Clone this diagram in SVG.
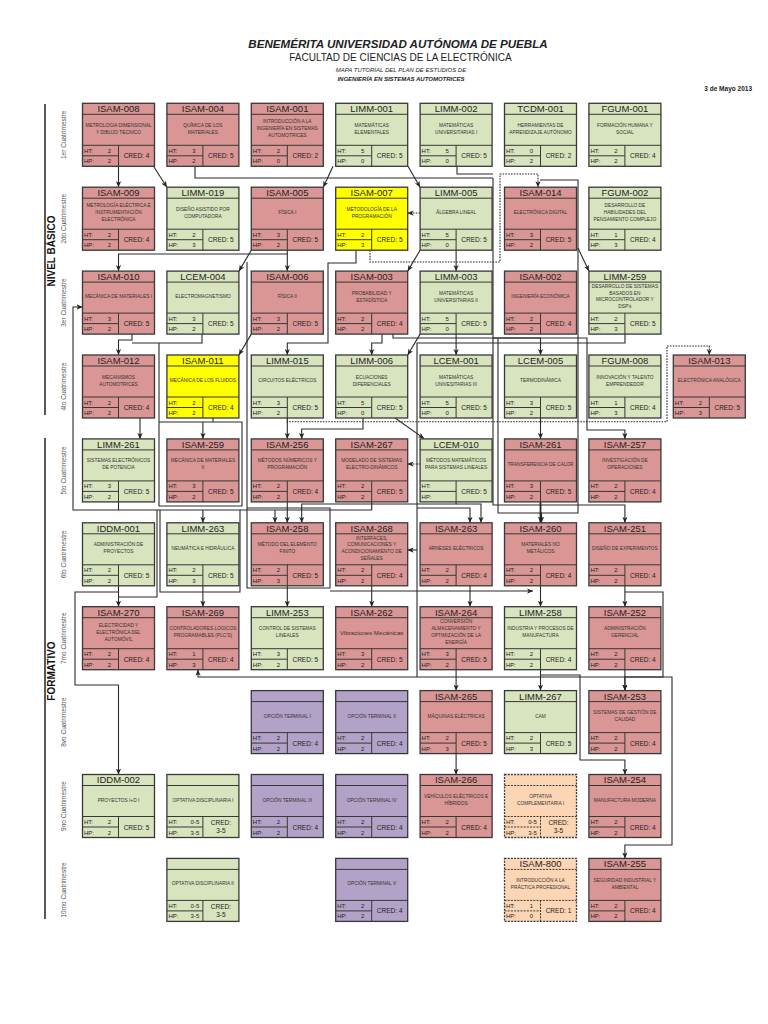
<svg xmlns="http://www.w3.org/2000/svg" xmlns:xlink="http://www.w3.org/1999/xlink" width="768" height="1024" viewBox="0 0 768 1024">
<style>
text{font-family:'Liberation Sans',Arial,sans-serif;fill:#222}
.c{font-size:9.5px;text-anchor:middle;fill:#1e1e1e}
.t{font-size:4.8px;text-anchor:middle;fill:#333}
.k{font-size:6px}
.v{font-size:6px;text-anchor:middle}
.r{font-size:6.5px;text-anchor:middle}
.sem{font-size:6.5px;text-anchor:middle;fill:#555}
.lvl{font-size:10px;font-weight:bold;text-anchor:middle;fill:#111}
.red{fill:#d99694}.grn{fill:#d7e4bd}.yel{fill:#ffff00}.pur{fill:#b3a2c7}.org{fill:#fcd5b5;stroke-dasharray:2 1.2}
.dsh{stroke-dasharray:2 1.2}
.ln{fill:none;stroke:#2a2a2a;stroke-width:1.1}
.dt{stroke-dasharray:1.6 1.2}
</style>
<defs>
<rect id="bx" width="72" height="63" stroke="#383838" stroke-width="1.3"/>
<path id="gr" d="M0,11H72M0,42H72M0,52.5H36M36,42V63" fill="none" stroke="#383838" stroke-width="1"/>
<marker id="ah" viewBox="0 0 8 8" refX="8" refY="4" markerWidth="6" markerHeight="6" orient="auto" markerUnits="userSpaceOnUse"><path d="M0,0.5L8,4L0,7.5L2.2,4z" fill="#222"/></marker>
</defs>
<rect width="768" height="1024" fill="#fff"/>
<g id="header">
<text x="398" y="48" style="font-size:11.6px;font-weight:bold;font-style:italic" text-anchor="middle">BENEMÉRITA UNIVERSIDAD AUTÓNOMA DE PUEBLA</text>
<text x="400.5" y="61" style="font-size:10px" text-anchor="middle">FACULTAD DE CIENCIAS DE LA ELECTRÓNICA</text>
<text x="401" y="71.5" style="font-size:6px;font-style:italic" text-anchor="middle">MAPA TUTORIAL DEL PLAN DE ESTUDIOS DE</text>
<text x="401" y="81" style="font-size:6px;font-style:italic;font-weight:bold" text-anchor="middle">INGENIERÍA EN SISTEMAS AUTOMOTRICES</text>
<text x="752" y="90.5" style="font-size:6.5px;font-weight:bold" text-anchor="end">3 de Mayo 2013</text>
</g>
<g id="levels">
<path d="M45,104V415M45,438V919" stroke="#222" stroke-width="1.5" fill="none"/>
<text class="lvl" transform="translate(55,251) rotate(-90)">NIVEL BÁSICO</text>
<text class="lvl" transform="translate(55,671) rotate(-90)">FORMATIVO</text>
<text class="sem" transform="translate(65.5,134.8) rotate(-90)">1er Cuatrimestre</text>
<text class="sem" transform="translate(65.5,218.7) rotate(-90)">2do Cuatrimestre</text>
<text class="sem" transform="translate(65.5,302.6) rotate(-90)">3er Cuatrimestre</text>
<text class="sem" transform="translate(65.5,386.5) rotate(-90)">4to Cuatrimestre</text>
<text class="sem" transform="translate(65.5,470.4) rotate(-90)">5to Cuatrimestre</text>
<text class="sem" transform="translate(65.5,554.3) rotate(-90)">6to Cuatrimestre</text>
<text class="sem" transform="translate(65.5,638.2) rotate(-90)">7mo Cuatrimestre</text>
<text class="sem" transform="translate(65.5,722.1) rotate(-90)">8vo Cuatrimestre</text>
<text class="sem" transform="translate(65.5,806) rotate(-90)">9no Cuatrimestre</text>
<text class="sem" transform="translate(65.5,889.9) rotate(-90)">10mo Cuatrimestre</text>
</g>
<g id="connectors" class="ln">
<path d="M195,166.3V178H493M457,166.3V174H493M202,334.1V343H132M159,343V506H242V422H159M213,418V422M393,334.1V338H493M625,334.1V343H417V677M247,262V588H330V508H247M118.5,501.9V510M157,510V597H118.5M160,510V592H240V510M498,338V513H541.5"/>
<g marker-end="url(#ah)">
<path d="M118.5,166.3V187.2"/>
<path d="M153.5,166.3L166.9,187.2"/>
<path d="M333,166.3L323.3,187.2"/>
<path d="M408,166.3L420.1,187.2"/>
<path d="M287.3,250.2V271.1"/>
<path d="M287.3,254H118.5V271.1"/>
<path d="M251.3,250.2L239,271.1"/>
<path d="M420.1,250.2L407.7,271.1"/>
<path d="M456.1,250.2V271.1"/>
<path d="M356,250.2V263H328V343H287.3V355"/>
<path d="M540,180H578V248L588.9,271.1"/>
<path d="M132,334.1V340H118.5V355"/>
<path d="M251.3,334.1L238.9,355"/>
<path d="M382,334.1V343H371.7V355"/>
<path d="M420.1,334.1L407.7,355"/>
<path d="M456.1,334.1V355"/>
<path d="M493,338H540.5V355"/>
<path d="M493,338H587V430H624.9V438.9"/>
<path d="M140,418V438.9"/>
<path d="M202.9,422V438.9"/>
<path d="M287.3,418V438.9"/>
<path d="M363,418V429H301.7V438.9"/>
<path d="M395,418L424,438.4"/>
<path d="M540.5,418V438.9"/>
<path d="M493,178V505H624.9V522.8"/>
<path d="M371.7,501.9V510H73V307H82.5"/>
<path d="M202.9,510V522.8"/>
<path d="M275,510V522.8"/>
<path d="M287.3,501.9V522.8"/>
<path d="M456.1,501.9V504H301.7V522.8"/>
<path d="M456.1,504H481V522.8"/>
<path d="M417,508H470V522.8"/>
<path d="M417,550H407.7"/>
<path d="M578,248V513H541.5V522.8"/>
<path d="M540.5,501.9V522.8" stroke-width="1.8"/>
<path d="M118.5,585.8V606.7"/>
<path d="M118.5,592H75V685H118.5V774.5"/>
<path d="M202.9,585.8V606.7"/>
<path d="M287.3,585.8V606.7"/>
<path d="M371.7,585.8V606.7"/>
<path d="M470,585.8V606.7"/>
<path d="M330,591H533"/>
<path d="M540.5,585.8V606.7"/>
<path d="M624.9,585.8V606.7"/>
<path d="M624.9,592H663V677H624.9V690.6"/>
<path d="M624.9,669.7V690.6"/>
<path d="M456.1,669.7V690.6"/>
<path d="M540.5,669.7V690.6"/>
<path d="M540.5,675H580V760H624.9V774.5"/>
<path d="M417,677H198V669.7"/>
<path d="M417,677H672V845H624.9V858.4"/>
<path d="M456.1,753.6V774.5"/>
<path class="dt" d="M370,250.2V262H500V174H538V187.2"/>
<path class="dt" d="M420.1,213H407.7"/>
<path class="dt" d="M287.3,418V421.7H667V346H709.3V355"/>
<path class="dt" d="M420.1,464H407.7"/>
</g>
</g>
<!-- Row 1 -->
<g id="ISAM-008" transform="translate(82.5,103.3)"><use href="#bx" class="red"/><use href="#gr"/><text class="c" x="36" y="8.9">ISAM-008</text><text class="t" x="36" y="23.5">METROLOGIA DIMENSIONAL</text><text class="t" x="36" y="30.5">Y DIBUJO TECNICO</text><text class="k" x="1.5" y="49.6">HT:</text><text class="v" x="27" y="49.6">2</text><text class="k" x="1.5" y="60">HP:</text><text class="v" x="27" y="60">2</text><text class="r" x="54" y="55">CRED: 4</text></g>
<g id="ISAM-004" transform="translate(166.9,103.3)"><use href="#bx" class="red"/><use href="#gr"/><text class="c" x="36" y="8.9">ISAM-004</text><text class="t" x="36" y="23.5">QUÍMICA DE LOS</text><text class="t" x="36" y="30.5">MATERIALES</text><text class="k" x="1.5" y="49.6">HT:</text><text class="v" x="27" y="49.6">3</text><text class="k" x="1.5" y="60">HP:</text><text class="v" x="27" y="60">2</text><text class="r" x="54" y="55">CRED: 5</text></g>
<g id="ISAM-001" transform="translate(251.3,103.3)"><use href="#bx" class="red"/><use href="#gr"/><text class="c" x="36" y="8.9">ISAM-001</text><text class="t" x="36" y="20">INTRODUCCIÓN A LA</text><text class="t" x="36" y="27">INGENIERÍA EN SISTEMAS</text><text class="t" x="36" y="34">AUTOMOTRICES</text><text class="k" x="1.5" y="49.6">HT:</text><text class="v" x="27" y="49.6">2</text><text class="k" x="1.5" y="60">HP:</text><text class="v" x="27" y="60">0</text><text class="r" x="54" y="55">CRED: 2</text></g>
<g id="LIMM-001" transform="translate(335.7,103.3)"><use href="#bx" class="grn"/><use href="#gr"/><text class="c" x="36" y="8.9">LIMM-001</text><text class="t" x="36" y="23.5">MATEMÁTICAS</text><text class="t" x="36" y="30.5">ELEMENTALES</text><text class="k" x="1.5" y="49.6">HT:</text><text class="v" x="27" y="49.6">5</text><text class="k" x="1.5" y="60">HP:</text><text class="v" x="27" y="60">0</text><text class="r" x="54" y="55">CRED: 5</text></g>
<g id="LIMM-002" transform="translate(420.1,103.3)"><use href="#bx" class="grn"/><use href="#gr"/><text class="c" x="36" y="8.9">LIMM-002</text><text class="t" x="36" y="23.5">MATEMÁTICAS</text><text class="t" x="36" y="30.5">UNIVERSITARIAS I</text><text class="k" x="1.5" y="49.6">HT:</text><text class="v" x="27" y="49.6">5</text><text class="k" x="1.5" y="60">HP:</text><text class="v" x="27" y="60">0</text><text class="r" x="54" y="55">CRED: 5</text></g>
<g id="TCDM-001" transform="translate(504.5,103.3)"><use href="#bx" class="grn"/><use href="#gr"/><text class="c" x="36" y="8.9">TCDM-001</text><text class="t" x="36" y="23.5">HERRAMIENTAS DE</text><text class="t" x="36" y="30.5">APRENDIZAJE AUTÓNOMO</text><text class="k" x="1.5" y="49.6">HT:</text><text class="v" x="27" y="49.6">0</text><text class="k" x="1.5" y="60">HP:</text><text class="v" x="27" y="60">2</text><text class="r" x="54" y="55">CRED: 2</text></g>
<g id="FGUM-001" transform="translate(588.9,103.3)"><use href="#bx" class="grn"/><use href="#gr"/><text class="c" x="36" y="8.9">FGUM-001</text><text class="t" x="36" y="23.5">FORMACIÓN HUMANA Y</text><text class="t" x="36" y="30.5">SOCIAL</text><text class="k" x="1.5" y="49.6">HT:</text><text class="v" x="27" y="49.6">2</text><text class="k" x="1.5" y="60">HP:</text><text class="v" x="27" y="60">2</text><text class="r" x="54" y="55">CRED: 4</text></g>
<!-- Row 2 -->
<g id="ISAM-009" transform="translate(82.5,187.2)"><use href="#bx" class="red"/><use href="#gr"/><text class="c" x="36" y="8.9">ISAM-009</text><text class="t" x="36" y="20">METROLOGÍA ELÉCTRICA E</text><text class="t" x="36" y="27">INSTRUMENTACIÓN</text><text class="t" x="36" y="34">ELECTRÓNICA</text><text class="k" x="1.5" y="49.6">HT:</text><text class="v" x="27" y="49.6">2</text><text class="k" x="1.5" y="60">HP:</text><text class="v" x="27" y="60">2</text><text class="r" x="54" y="55">CRED: 4</text></g>
<g id="LIMM-019" transform="translate(166.9,187.2)"><use href="#bx" class="grn"/><use href="#gr"/><text class="c" x="36" y="8.9">LIMM-019</text><text class="t" x="36" y="23.5">DISEÑO ASISTIDO POR</text><text class="t" x="36" y="30.5">COMPUTADORA</text><text class="k" x="1.5" y="49.6">HT:</text><text class="v" x="27" y="49.6">2</text><text class="k" x="1.5" y="60">HP:</text><text class="v" x="27" y="60">3</text><text class="r" x="54" y="55">CRED: 5</text></g>
<g id="ISAM-005" transform="translate(251.3,187.2)"><use href="#bx" class="red"/><use href="#gr"/><text class="c" x="36" y="8.9">ISAM-005</text><text class="t" x="36" y="27">FÍSICA I</text><text class="k" x="1.5" y="49.6">HT:</text><text class="v" x="27" y="49.6">3</text><text class="k" x="1.5" y="60">HP:</text><text class="v" x="27" y="60">2</text><text class="r" x="54" y="55">CRED: 5</text></g>
<g id="ISAM-007" transform="translate(335.7,187.2)"><use href="#bx" class="yel"/><use href="#gr"/><text class="c" x="36" y="8.9">ISAM-007</text><text class="t" x="36" y="23.5">METODOLOGÍA DE LA</text><text class="t" x="36" y="30.5">PROGRAMACIÓN</text><text class="k" x="1.5" y="49.6">HT:</text><text class="v" x="27" y="49.6">2</text><text class="k" x="1.5" y="60">HP:</text><text class="v" x="27" y="60">3</text><text class="r" x="54" y="55">CRED: 5</text></g>
<g id="LIMM-005" transform="translate(420.1,187.2)"><use href="#bx" class="grn"/><use href="#gr"/><text class="c" x="36" y="8.9">LIMM-005</text><text class="t" x="36" y="27">ÁLGEBRA LINEAL</text><text class="k" x="1.5" y="49.6">HT:</text><text class="v" x="27" y="49.6">5</text><text class="k" x="1.5" y="60">HP:</text><text class="v" x="27" y="60">0</text><text class="r" x="54" y="55">CRED: 5</text></g>
<g id="ISAM-014" transform="translate(504.5,187.2)"><use href="#bx" class="red"/><use href="#gr"/><text class="c" x="36" y="8.9">ISAM-014</text><text class="t" x="36" y="27">ELECTRÓNICA DIGITAL</text><text class="k" x="1.5" y="49.6">HT:</text><text class="v" x="27" y="49.6">3</text><text class="k" x="1.5" y="60">HP:</text><text class="v" x="27" y="60">2</text><text class="r" x="54" y="55">CRED: 5</text></g>
<g id="FGUM-002" transform="translate(588.9,187.2)"><use href="#bx" class="grn"/><use href="#gr"/><text class="c" x="36" y="8.9">FGUM-002</text><text class="t" x="36" y="20">DESARROLLO DE</text><text class="t" x="36" y="27">HABILIDADES DEL</text><text class="t" x="36" y="34">PENSAMIENTO COMPLEJO</text><text class="k" x="1.5" y="49.6">HT:</text><text class="v" x="27" y="49.6">1</text><text class="k" x="1.5" y="60">HP:</text><text class="v" x="27" y="60">3</text><text class="r" x="54" y="55">CRED: 4</text></g>
<!-- Row 3 -->
<g id="ISAM-010" transform="translate(82.5,271.1)"><use href="#bx" class="red"/><use href="#gr"/><text class="c" x="36" y="8.9">ISAM-010</text><text class="t" x="36" y="27">MECÁNICA DE MATERIALES I</text><text class="k" x="1.5" y="49.6">HT:</text><text class="v" x="27" y="49.6">3</text><text class="k" x="1.5" y="60">HP:</text><text class="v" x="27" y="60">2</text><text class="r" x="54" y="55">CRED: 5</text></g>
<g id="LCEM-004" transform="translate(166.9,271.1)"><use href="#bx" class="grn"/><use href="#gr"/><text class="c" x="36" y="8.9">LCEM-004</text><text class="t" x="36" y="27">ELECTROMAGNETISMO</text><text class="k" x="1.5" y="49.6">HT:</text><text class="v" x="27" y="49.6">3</text><text class="k" x="1.5" y="60">HP:</text><text class="v" x="27" y="60">2</text><text class="r" x="54" y="55">CRED: 5</text></g>
<g id="ISAM-006" transform="translate(251.3,271.1)"><use href="#bx" class="red"/><use href="#gr"/><text class="c" x="36" y="8.9">ISAM-006</text><text class="t" x="36" y="27">FÍSICA II</text><text class="k" x="1.5" y="49.6">HT:</text><text class="v" x="27" y="49.6">3</text><text class="k" x="1.5" y="60">HP:</text><text class="v" x="27" y="60">2</text><text class="r" x="54" y="55">CRED: 5</text></g>
<g id="ISAM-003" transform="translate(335.7,271.1)"><use href="#bx" class="red"/><use href="#gr"/><text class="c" x="36" y="8.9">ISAM-003</text><text class="t" x="36" y="23.5">PROBABILIDAD Y</text><text class="t" x="36" y="30.5">ESTADÍSTICA</text><text class="k" x="1.5" y="49.6">HT:</text><text class="v" x="27" y="49.6">2</text><text class="k" x="1.5" y="60">HP:</text><text class="v" x="27" y="60">2</text><text class="r" x="54" y="55">CRED: 4</text></g>
<g id="LIMM-003" transform="translate(420.1,271.1)"><use href="#bx" class="grn"/><use href="#gr"/><text class="c" x="36" y="8.9">LIMM-003</text><text class="t" x="36" y="23.5">MATEMÁTICAS</text><text class="t" x="36" y="30.5">UNIVERSITARIAS II</text><text class="k" x="1.5" y="49.6">HT:</text><text class="v" x="27" y="49.6">5</text><text class="k" x="1.5" y="60">HP:</text><text class="v" x="27" y="60">0</text><text class="r" x="54" y="55">CRED: 5</text></g>
<g id="ISAM-002" transform="translate(504.5,271.1)"><use href="#bx" class="red"/><use href="#gr"/><text class="c" x="36" y="8.9">ISAM-002</text><text class="t" x="36" y="27">INGENIERÍA ECONÓMICA</text><text class="k" x="1.5" y="49.6">HT:</text><text class="v" x="27" y="49.6">2</text><text class="k" x="1.5" y="60">HP:</text><text class="v" x="27" y="60">2</text><text class="r" x="54" y="55">CRED: 4</text></g>
<g id="LIMM-259" transform="translate(588.9,271.1)"><use href="#bx" class="grn"/><use href="#gr"/><text class="c" x="36" y="8.9">LIMM-259</text><text class="t" x="36" y="16.8">DESARROLLO DE SISTEMAS</text><text class="t" x="36" y="23.6">BASADOS EN</text><text class="t" x="36" y="30.4">MICROCONTROLADOR Y</text><text class="t" x="36" y="37.2">DSP's</text><text class="k" x="1.5" y="49.6">HT:</text><text class="v" x="27" y="49.6">2</text><text class="k" x="1.5" y="60">HP:</text><text class="v" x="27" y="60">3</text><text class="r" x="54" y="55">CRED: 5</text></g>
<!-- Row 4 -->
<g id="ISAM-012" transform="translate(82.5,355)"><use href="#bx" class="red"/><use href="#gr"/><text class="c" x="36" y="8.9">ISAM-012</text><text class="t" x="36" y="23.5">MECANISMOS</text><text class="t" x="36" y="30.5">AUTOMOTRICES</text><text class="k" x="1.5" y="49.6">HT:</text><text class="v" x="27" y="49.6">2</text><text class="k" x="1.5" y="60">HP:</text><text class="v" x="27" y="60">2</text><text class="r" x="54" y="55">CRED: 4</text></g>
<g id="ISAM-011" transform="translate(166.9,355)"><use href="#bx" class="yel"/><use href="#gr"/><text class="c" x="36" y="8.9">ISAM-011</text><text class="t" x="36" y="27">MECÁNICA DE LOS FLUIDOS</text><text class="k" x="1.5" y="49.6">HT:</text><text class="v" x="27" y="49.6">2</text><text class="k" x="1.5" y="60">HP:</text><text class="v" x="27" y="60">2</text><text class="r" x="54" y="55">CRED: 4</text></g>
<g id="LIMM-015" transform="translate(251.3,355)"><use href="#bx" class="grn"/><use href="#gr"/><text class="c" x="36" y="8.9">LIMM-015</text><text class="t" x="36" y="27">CIRCUITOS ELÉCTRICOS</text><text class="k" x="1.5" y="49.6">HT:</text><text class="v" x="27" y="49.6">3</text><text class="k" x="1.5" y="60">HP:</text><text class="v" x="27" y="60">2</text><text class="r" x="54" y="55">CRED: 5</text></g>
<g id="LIMM-006" transform="translate(335.7,355)"><use href="#bx" class="grn"/><use href="#gr"/><text class="c" x="36" y="8.9">LIMM-006</text><text class="t" x="36" y="23.5">ECUACIONES</text><text class="t" x="36" y="30.5">DIFERENCIALES</text><text class="k" x="1.5" y="49.6">HT:</text><text class="v" x="27" y="49.6">5</text><text class="k" x="1.5" y="60">HP:</text><text class="v" x="27" y="60">0</text><text class="r" x="54" y="55">CRED: 5</text></g>
<g id="LCEM-001" transform="translate(420.1,355)"><use href="#bx" class="grn"/><use href="#gr"/><text class="c" x="36" y="8.9">LCEM-001</text><text class="t" x="36" y="23.5">MATEMÁTICAS</text><text class="t" x="36" y="30.5">UNIVESITARIAS III</text><text class="k" x="1.5" y="49.6">HT:</text><text class="v" x="27" y="49.6">5</text><text class="k" x="1.5" y="60">HP:</text><text class="v" x="27" y="60">0</text><text class="r" x="54" y="55">CRED: 5</text></g>
<g id="LCEM-005" transform="translate(504.5,355)"><use href="#bx" class="grn"/><use href="#gr"/><text class="c" x="36" y="8.9">LCEM-005</text><text class="t" x="36" y="27">TERMODINÁMICA</text><text class="k" x="1.5" y="49.6">HT:</text><text class="v" x="27" y="49.6">3</text><text class="k" x="1.5" y="60">HP:</text><text class="v" x="27" y="60">2</text><text class="r" x="54" y="55">CRED: 5</text></g>
<g id="FGUM-008" transform="translate(588.9,355)"><use href="#bx" class="grn"/><use href="#gr"/><text class="c" x="36" y="8.9">FGUM-008</text><text class="t" x="36" y="23.5">INNOVACIÓN Y TALENTO</text><text class="t" x="36" y="30.5">EMPRENDEDOR</text><text class="k" x="1.5" y="49.6">HT:</text><text class="v" x="27" y="49.6">1</text><text class="k" x="1.5" y="60">HP:</text><text class="v" x="27" y="60">3</text><text class="r" x="54" y="55">CRED: 4</text></g>
<g id="ISAM-013" transform="translate(673.3,355)"><use href="#bx" class="red"/><use href="#gr"/><text class="c" x="36" y="8.9">ISAM-013</text><text class="t" x="36" y="27">ELECTRÓNICA ANALÓGICA</text><text class="k" x="1.5" y="49.6">HT:</text><text class="v" x="27" y="49.6">2</text><text class="k" x="1.5" y="60">HP:</text><text class="v" x="27" y="60">3</text><text class="r" x="54" y="55">CRED: 5</text></g>
<!-- Row 5 -->
<g id="LIMM-261" transform="translate(82.5,438.9)"><use href="#bx" class="grn"/><use href="#gr"/><text class="c" x="36" y="8.9">LIMM-261</text><text class="t" x="36" y="23.5">SISTEMAS ELECTRÓNICOS</text><text class="t" x="36" y="30.5">DE POTENCIA</text><text class="k" x="1.5" y="49.6">HT:</text><text class="v" x="27" y="49.6">3</text><text class="k" x="1.5" y="60">HP:</text><text class="v" x="27" y="60">2</text><text class="r" x="54" y="55">CRED: 5</text></g>
<g id="ISAM-259" transform="translate(166.9,438.9)"><use href="#bx" class="red"/><use href="#gr"/><text class="c" x="36" y="8.9">ISAM-259</text><text class="t" x="36" y="23.5">MECÁNICA DE MATERIALES</text><text class="t" x="36" y="30.5">II</text><text class="k" x="1.5" y="49.6">HT:</text><text class="v" x="27" y="49.6">3</text><text class="k" x="1.5" y="60">HP:</text><text class="v" x="27" y="60">2</text><text class="r" x="54" y="55">CRED: 5</text></g>
<g id="ISAM-256" transform="translate(251.3,438.9)"><use href="#bx" class="red"/><use href="#gr"/><text class="c" x="36" y="8.9">ISAM-256</text><text class="t" x="36" y="23.5">MÉTODOS NÚMERICOS Y</text><text class="t" x="36" y="30.5">PROGRAMACIÓN</text><text class="k" x="1.5" y="49.6">HT:</text><text class="v" x="27" y="49.6">2</text><text class="k" x="1.5" y="60">HP:</text><text class="v" x="27" y="60">2</text><text class="r" x="54" y="55">CRED: 4</text></g>
<g id="ISAM-267" transform="translate(335.7,438.9)"><use href="#bx" class="red"/><use href="#gr"/><text class="c" x="36" y="8.9">ISAM-267</text><text class="t" x="36" y="23.5">MODELADO DE SISTEMAS</text><text class="t" x="36" y="30.5">ELECTRO-DINÁMICOS</text><text class="k" x="1.5" y="49.6">HT:</text><text class="v" x="27" y="49.6">2</text><text class="k" x="1.5" y="60">HP:</text><text class="v" x="27" y="60">2</text><text class="r" x="54" y="55">CRED: 5</text></g>
<g id="LCEM-010" transform="translate(420.1,438.9)"><use href="#bx" class="grn"/><use href="#gr"/><text class="c" x="36" y="8.9">LCEM-010</text><text class="t" x="36" y="23.5">MÉTODOS MATEMÁTICOS</text><text class="t" x="36" y="30.5">PARA SISTEMAS LINEALES</text><text class="k" x="1.5" y="49.6">HT:</text><text class="k" x="1.5" y="60">HP:</text><text class="r" x="54" y="55">CRED: 5</text></g>
<g id="ISAM-261" transform="translate(504.5,438.9)"><use href="#bx" class="red"/><use href="#gr"/><text class="c" x="36" y="8.9">ISAM-261</text><text class="t" x="36" y="27">TRANSFERENCIA DE CALOR</text><text class="k" x="1.5" y="49.6">HT:</text><text class="v" x="27" y="49.6">3</text><text class="k" x="1.5" y="60">HP:</text><text class="v" x="27" y="60">2</text><text class="r" x="54" y="55">CRED: 5</text></g>
<g id="ISAM-257" transform="translate(588.9,438.9)"><use href="#bx" class="red"/><use href="#gr"/><text class="c" x="36" y="8.9">ISAM-257</text><text class="t" x="36" y="23.5">INVESTIGACIÓN DE</text><text class="t" x="36" y="30.5">OPERACIONES</text><text class="k" x="1.5" y="49.6">HT:</text><text class="v" x="27" y="49.6">2</text><text class="k" x="1.5" y="60">HP:</text><text class="v" x="27" y="60">2</text><text class="r" x="54" y="55">CRED: 4</text></g>
<!-- Row 6 -->
<g id="IDDM-001" transform="translate(82.5,522.8)"><use href="#bx" class="grn"/><use href="#gr"/><text class="c" x="36" y="8.9">IDDM-001</text><text class="t" x="36" y="23.5">ADMINISTRACIÓN DE</text><text class="t" x="36" y="30.5">PROYECTOS</text><text class="k" x="1.5" y="49.6">HT:</text><text class="v" x="27" y="49.6">2</text><text class="k" x="1.5" y="60">HP:</text><text class="v" x="27" y="60">2</text><text class="r" x="54" y="55">CRED: 5</text></g>
<g id="LIMM-263" transform="translate(166.9,522.8)"><use href="#bx" class="grn"/><use href="#gr"/><text class="c" x="36" y="8.9">LIMM-263</text><text class="t" x="36" y="27">NEUMÁTICA E HIDRÁULICA</text><text class="k" x="1.5" y="49.6">HT:</text><text class="v" x="27" y="49.6">2</text><text class="k" x="1.5" y="60">HP:</text><text class="v" x="27" y="60">3</text><text class="r" x="54" y="55">CRED: 5</text></g>
<g id="ISAM-258" transform="translate(251.3,522.8)"><use href="#bx" class="red"/><use href="#gr"/><text class="c" x="36" y="8.9">ISAM-258</text><text class="t" x="36" y="23.5">MÉTODO DEL ELEMENTO</text><text class="t" x="36" y="30.5">FINITO</text><text class="k" x="1.5" y="49.6">HT:</text><text class="v" x="27" y="49.6">2</text><text class="k" x="1.5" y="60">HP:</text><text class="v" x="27" y="60">3</text><text class="r" x="54" y="55">CRED: 5</text></g>
<g id="ISAM-268" transform="translate(335.7,522.8)"><use href="#bx" class="red"/><use href="#gr"/><text class="c" x="36" y="8.9">ISAM-268</text><text class="t" x="36" y="16.8">INTERFACES,</text><text class="t" x="36" y="23.6">COMUNICACIONES Y</text><text class="t" x="36" y="30.4">ACONDICIONAMIENTO DE</text><text class="t" x="36" y="37.2">SEÑALES</text><text class="k" x="1.5" y="49.6">HT:</text><text class="v" x="27" y="49.6">2</text><text class="k" x="1.5" y="60">HP:</text><text class="v" x="27" y="60">2</text><text class="r" x="54" y="55">CRED: 4</text></g>
<g id="ISAM-263" transform="translate(420.1,522.8)"><use href="#bx" class="red"/><use href="#gr"/><text class="c" x="36" y="8.9">ISAM-263</text><text class="t" x="36" y="27">ARNESES ELÉCTRICOS</text><text class="k" x="1.5" y="49.6">HT:</text><text class="v" x="27" y="49.6">2</text><text class="k" x="1.5" y="60">HP:</text><text class="v" x="27" y="60">2</text><text class="r" x="54" y="55">CRED: 4</text></g>
<g id="ISAM-260" transform="translate(504.5,522.8)"><use href="#bx" class="red"/><use href="#gr"/><text class="c" x="36" y="8.9">ISAM-260</text><text class="t" x="36" y="23.5">MATERIALES NO</text><text class="t" x="36" y="30.5">METÁLICOS</text><text class="k" x="1.5" y="49.6">HT:</text><text class="v" x="27" y="49.6">2</text><text class="k" x="1.5" y="60">HP:</text><text class="v" x="27" y="60">2</text><text class="r" x="54" y="55">CRED: 4</text></g>
<g id="ISAM-251" transform="translate(588.9,522.8)"><use href="#bx" class="red"/><use href="#gr"/><text class="c" x="36" y="8.9">ISAM-251</text><text class="t" x="36" y="27">DISEÑO DE EXPERIMENTOS</text><text class="k" x="1.5" y="49.6">HT:</text><text class="v" x="27" y="49.6">2</text><text class="k" x="1.5" y="60">HP:</text><text class="v" x="27" y="60">2</text><text class="r" x="54" y="55">CRED: 4</text></g>
<!-- Row 7 -->
<g id="ISAM-270" transform="translate(82.5,606.7)"><use href="#bx" class="red"/><use href="#gr"/><text class="c" x="36" y="8.9">ISAM-270</text><text class="t" x="36" y="20">ELECTRICIDAD Y</text><text class="t" x="36" y="27">ELECTRÓNICA DEL</text><text class="t" x="36" y="34">AUTOMÓVIL</text><text class="k" x="1.5" y="49.6">HT:</text><text class="v" x="27" y="49.6">2</text><text class="k" x="1.5" y="60">HP:</text><text class="v" x="27" y="60">2</text><text class="r" x="54" y="55">CRED: 4</text></g>
<g id="ISAM-269" transform="translate(166.9,606.7)"><use href="#bx" class="red"/><use href="#gr"/><text class="c" x="36" y="8.9">ISAM-269</text><text class="t" x="36" y="23.5">CONTROLADORES LOGICOS</text><text class="t" x="36" y="30.5">PROGRAMABLES (PLC'S)</text><text class="k" x="1.5" y="49.6">HT:</text><text class="v" x="27" y="49.6">1</text><text class="k" x="1.5" y="60">HP:</text><text class="v" x="27" y="60">3</text><text class="r" x="54" y="55">CRED: 4</text></g>
<g id="LIMM-253" transform="translate(251.3,606.7)"><use href="#bx" class="grn"/><use href="#gr"/><text class="c" x="36" y="8.9">LIMM-253</text><text class="t" x="36" y="23.5">CONTROL DE SISTEMAS</text><text class="t" x="36" y="30.5">LINEALES</text><text class="k" x="1.5" y="49.6">HT:</text><text class="v" x="27" y="49.6">3</text><text class="k" x="1.5" y="60">HP:</text><text class="v" x="27" y="60">2</text><text class="r" x="54" y="55">CRED: 5</text></g>
<g id="ISAM-262" transform="translate(335.7,606.7)"><use href="#bx" class="red"/><use href="#gr"/><text class="c" x="36" y="8.9">ISAM-262</text><text class="t" x="36" y="28" style="font-size:6.2px">Vibraciones Mecánicas</text><text class="k" x="1.5" y="49.6">HT:</text><text class="v" x="27" y="49.6">3</text><text class="k" x="1.5" y="60">HP:</text><text class="v" x="27" y="60">2</text><text class="r" x="54" y="55">CRED: 5</text></g>
<g id="ISAM-264" transform="translate(420.1,606.7)"><use href="#bx" class="red"/><use href="#gr"/><text class="c" x="36" y="8.9">ISAM-264</text><text class="t" x="36" y="16.8">CONVERSIÓN</text><text class="t" x="36" y="23.6">ALMACENAMIENTO Y</text><text class="t" x="36" y="30.4">OPTIMIZACIÓN DE LA</text><text class="t" x="36" y="37.2">ENERGÍA</text><text class="k" x="1.5" y="49.6">HT:</text><text class="v" x="27" y="49.6">3</text><text class="k" x="1.5" y="60">HP:</text><text class="v" x="27" y="60">2</text><text class="r" x="54" y="55">CRED: 5</text></g>
<g id="LIMM-258" transform="translate(504.5,606.7)"><use href="#bx" class="grn"/><use href="#gr"/><text class="c" x="36" y="8.9">LIMM-258</text><text class="t" x="36" y="23.5">INDUSTRIA Y PROCESOS DE</text><text class="t" x="36" y="30.5">MANUFACTURA</text><text class="k" x="1.5" y="49.6">HT:</text><text class="v" x="27" y="49.6">2</text><text class="k" x="1.5" y="60">HP:</text><text class="v" x="27" y="60">2</text><text class="r" x="54" y="55">CRED: 4</text></g>
<g id="ISAM-252" transform="translate(588.9,606.7)"><use href="#bx" class="red"/><use href="#gr"/><text class="c" x="36" y="8.9">ISAM-252</text><text class="t" x="36" y="23.5">ADMINISTRACIÓN</text><text class="t" x="36" y="30.5">GERENCIAL</text><text class="k" x="1.5" y="49.6">HT:</text><text class="v" x="27" y="49.6">2</text><text class="k" x="1.5" y="60">HP:</text><text class="v" x="27" y="60">2</text><text class="r" x="54" y="55">CRED: 4</text></g>
<!-- Row 8 -->
<g id="OPCION-TERMINAL-I" transform="translate(251.3,690.6)"><use href="#bx" class="pur"/><use href="#gr"/><text class="t" x="36" y="27">OPCIÓN TERMINAL I</text><text class="k" x="1.5" y="49.6">HT:</text><text class="v" x="27" y="49.6">2</text><text class="k" x="1.5" y="60">HP:</text><text class="v" x="27" y="60">2</text><text class="r" x="54" y="55">CRED: 4</text></g>
<g id="OPCION-TERMINAL-II" transform="translate(335.7,690.6)"><use href="#bx" class="pur"/><use href="#gr"/><text class="t" x="36" y="27">OPCIÓN TERMINAL II</text><text class="k" x="1.5" y="49.6">HT:</text><text class="v" x="27" y="49.6">2</text><text class="k" x="1.5" y="60">HP:</text><text class="v" x="27" y="60">2</text><text class="r" x="54" y="55">CRED: 4</text></g>
<g id="ISAM-265" transform="translate(420.1,690.6)"><use href="#bx" class="red"/><use href="#gr"/><text class="c" x="36" y="8.9">ISAM-265</text><text class="t" x="36" y="27">MÁQUINAS ELÉCTRICAS</text><text class="k" x="1.5" y="49.6">HT:</text><text class="v" x="27" y="49.6">2</text><text class="k" x="1.5" y="60">HP:</text><text class="v" x="27" y="60">3</text><text class="r" x="54" y="55">CRED: 5</text></g>
<g id="LIMM-267" transform="translate(504.5,690.6)"><use href="#bx" class="grn"/><use href="#gr"/><text class="c" x="36" y="8.9">LIMM-267</text><text class="t" x="36" y="27">CAM</text><text class="k" x="1.5" y="49.6">HT:</text><text class="v" x="27" y="49.6">2</text><text class="k" x="1.5" y="60">HP:</text><text class="v" x="27" y="60">3</text><text class="r" x="54" y="55">CRED: 5</text></g>
<g id="ISAM-253" transform="translate(588.9,690.6)"><use href="#bx" class="red"/><use href="#gr"/><text class="c" x="36" y="8.9">ISAM-253</text><text class="t" x="36" y="23.5">SISTEMAS DE GESTIÓN DE</text><text class="t" x="36" y="30.5">CALIDAD</text><text class="k" x="1.5" y="49.6">HT:</text><text class="v" x="27" y="49.6">2</text><text class="k" x="1.5" y="60">HP:</text><text class="v" x="27" y="60">2</text><text class="r" x="54" y="55">CRED: 4</text></g>
<!-- Row 9 -->
<g id="IDDM-002" transform="translate(82.5,774.5)"><use href="#bx" class="grn"/><use href="#gr"/><text class="c" x="36" y="8.9">IDDM-002</text><text class="t" x="36" y="27">PROYECTOS I+D I</text><text class="k" x="1.5" y="49.6">HT:</text><text class="v" x="27" y="49.6">2</text><text class="k" x="1.5" y="60">HP:</text><text class="v" x="27" y="60">2</text><text class="r" x="54" y="55">CRED: 5</text></g>
<g id="OPTATIVA-DISCIPLINARIA-I" transform="translate(166.9,774.5)"><use href="#bx" class="grn"/><use href="#gr"/><text class="t" x="36" y="27">OPTATIVA DISCIPLINARIA I</text><text class="k" x="1.5" y="49.6">HT:</text><text class="v" x="28" y="49.6">0-5</text><text class="k" x="1.5" y="60">HP:</text><text class="v" x="28" y="60">3-5</text><text class="r" x="54" y="50.5">CRED:</text><text class="r" x="54" y="58.5">3-5</text></g>
<g id="OPCION-TERMINAL-III" transform="translate(251.3,774.5)"><use href="#bx" class="pur"/><use href="#gr"/><text class="t" x="36" y="27">OPCIÓN TERMINAL III</text><text class="k" x="1.5" y="49.6">HT:</text><text class="v" x="27" y="49.6">2</text><text class="k" x="1.5" y="60">HP:</text><text class="v" x="27" y="60">2</text><text class="r" x="54" y="55">CRED: 4</text></g>
<g id="OPCION-TERMINAL-IV" transform="translate(335.7,774.5)"><use href="#bx" class="pur"/><use href="#gr"/><text class="t" x="36" y="27">OPCIÓN TERMINAL IV</text><text class="k" x="1.5" y="49.6">HT:</text><text class="v" x="27" y="49.6">2</text><text class="k" x="1.5" y="60">HP:</text><text class="v" x="27" y="60">2</text><text class="r" x="54" y="55">CRED: 4</text></g>
<g id="ISAM-266" transform="translate(420.1,774.5)"><use href="#bx" class="red"/><use href="#gr"/><text class="c" x="36" y="8.9">ISAM-266</text><text class="t" x="36" y="23.5">VEHÍCULOS ELÉCTRICOS E</text><text class="t" x="36" y="30.5">HÍBRIDOS</text><text class="k" x="1.5" y="49.6">HT:</text><text class="v" x="27" y="49.6">2</text><text class="k" x="1.5" y="60">HP:</text><text class="v" x="27" y="60">2</text><text class="r" x="54" y="55">CRED: 4</text></g>
<g id="OPTATIVA-COMPLEMENTARIA-I" transform="translate(504.5,774.5)"><use href="#bx" class="org"/><use href="#gr" class="dsh"/><text class="t" x="36" y="23.5">OPTATIVA</text><text class="t" x="36" y="30.5">COMPLEMENTARIA I</text><text class="k" x="1.5" y="49.6">HT:</text><text class="v" x="28" y="49.6">0-5</text><text class="k" x="1.5" y="60">HP:</text><text class="v" x="28" y="60">3-5</text><text class="r" x="54" y="50.5">CRED:</text><text class="r" x="54" y="58.5">3-5</text></g>
<g id="ISAM-254" transform="translate(588.9,774.5)"><use href="#bx" class="red"/><use href="#gr"/><text class="c" x="36" y="8.9">ISAM-254</text><text class="t" x="36" y="27">MANUFACTURA MODERNA</text><text class="k" x="1.5" y="49.6">HT:</text><text class="v" x="27" y="49.6">2</text><text class="k" x="1.5" y="60">HP:</text><text class="v" x="27" y="60">2</text><text class="r" x="54" y="55">CRED: 4</text></g>
<!-- Row 10 -->
<g id="OPTATIVA-DISCIPLINARIA-II" transform="translate(166.9,858.4)"><use href="#bx" class="grn"/><use href="#gr"/><text class="t" x="36" y="27">OPTATIVA DISCIPLINARIA II</text><text class="k" x="1.5" y="49.6">HT:</text><text class="v" x="28" y="49.6">0-5</text><text class="k" x="1.5" y="60">HP:</text><text class="v" x="28" y="60">3-5</text><text class="r" x="54" y="50.5">CRED:</text><text class="r" x="54" y="58.5">3-5</text></g>
<g id="OPCION-TERMINAL-V" transform="translate(335.7,858.4)"><use href="#bx" class="pur"/><use href="#gr"/><text class="t" x="36" y="27">OPCIÓN TERMINAL V</text><text class="k" x="1.5" y="49.6">HT:</text><text class="v" x="27" y="49.6">2</text><text class="k" x="1.5" y="60">HP:</text><text class="v" x="27" y="60">2</text><text class="r" x="54" y="55">CRED: 4</text></g>
<g id="ISAM-800" transform="translate(504.5,858.4)"><use href="#bx" class="org"/><use href="#gr" class="dsh"/><text class="c" x="36" y="8.9">ISAM-800</text><text class="t" x="36" y="23.5">INTRODUCCIÓN A LA</text><text class="t" x="36" y="30.5">PRÁCTICA PROFESIONAL</text><text class="k" x="1.5" y="49.6">HT:</text><text class="v" x="27" y="49.6">1</text><text class="k" x="1.5" y="60">HP:</text><text class="v" x="27" y="60">0</text><text class="r" x="54" y="55">CRED: 1</text></g>
<g id="ISAM-255" transform="translate(588.9,858.4)"><use href="#bx" class="red"/><use href="#gr"/><text class="c" x="36" y="8.9">ISAM-255</text><text class="t" x="36" y="23.5">SEGURIDAD INDUSTRIAL Y</text><text class="t" x="36" y="30.5">AMBIENTAL</text><text class="k" x="1.5" y="49.6">HT:</text><text class="v" x="27" y="49.6">2</text><text class="k" x="1.5" y="60">HP:</text><text class="v" x="27" y="60">2</text><text class="r" x="54" y="55">CRED: 4</text></g>
</svg>
